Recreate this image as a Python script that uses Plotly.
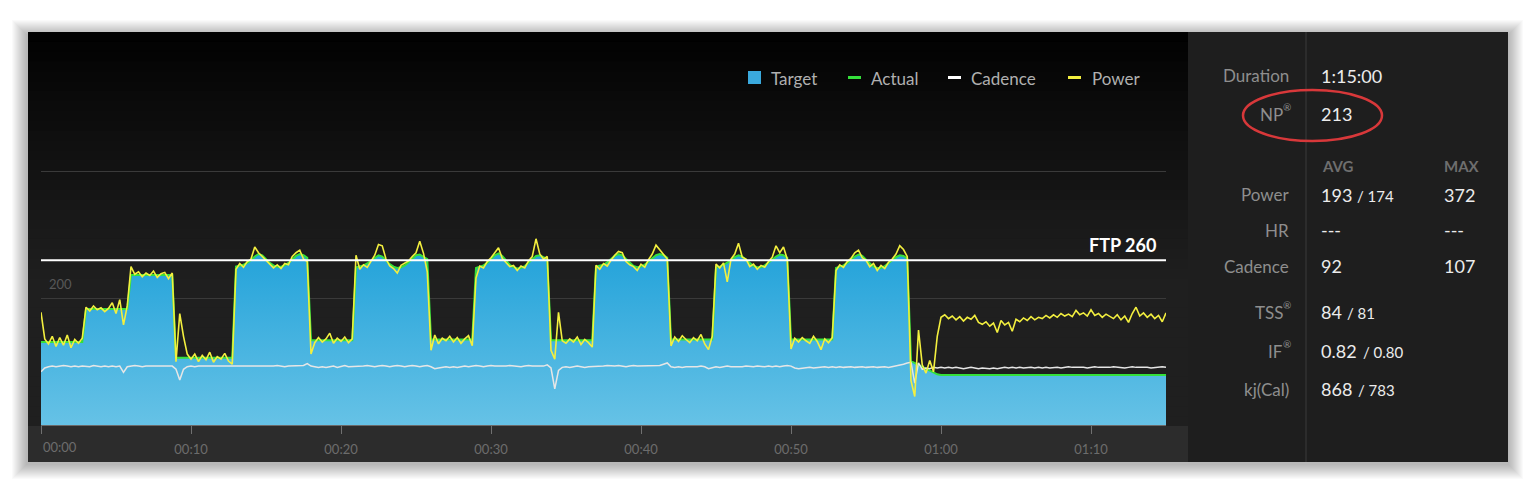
import numpy as np
import plotly.graph_objects as go

# ---------------- data ----------------
STEP_MIN = 0.25  # sampling step of every series, minutes

target_w = [
    131, 131, 131, 131, 131, 131, 131, 131, 131, 131, 131, 131,
    183, 183, 183, 183, 183, 183, 183, 183, 183, 183, 183, 183,
    237, 237, 237, 237, 237, 237, 237, 237, 237, 237, 237, 237,
    106, 106, 106, 106, 106, 106, 106, 106, 106, 106, 106, 106, 106, 106, 106, 106,
    250, 251, 253, 256, 260, 266, 270, 268, 262, 256, 252, 250, 250, 252, 256, 262, 267, 270, 268, 264,
    134, 134, 134, 134, 134, 134, 134, 134, 134, 134, 134, 134,
    249, 250, 252, 255, 259, 264, 268, 266, 260, 254, 250, 248, 249, 252, 257, 263, 268, 269, 266, 262,
    135, 135, 135, 135, 135, 135, 135, 135, 135, 135, 135, 135,
    248, 250, 252, 256, 262, 268, 271, 267, 260, 253, 249, 247, 248, 251, 256, 262, 267, 268, 265, 262,
    134, 134, 134, 134, 134, 134, 134, 134, 134, 134, 134, 134,
    250, 251, 253, 257, 262, 267, 270, 268, 262, 256, 251, 249, 250, 253, 258, 264, 268, 270, 268, 264,
    135, 135, 135, 135, 135, 135, 135, 135, 135, 135, 135, 135,
    249, 250, 253, 256, 260, 265, 268, 266, 261, 255, 251, 249, 249, 252, 256, 261, 266, 269, 268, 264,
    135, 135, 135, 135, 135, 135, 135, 135, 135, 135, 135, 135,
    248, 250, 252, 256, 261, 266, 269, 267, 261, 255, 250, 248, 248, 251, 255, 260, 265, 268, 267, 263,
    101, 98, 95, 92, 89, 86, 83, 80,
    79, 79, 79, 79, 79, 79, 79, 79, 79, 79, 79, 79, 79, 79, 79, 79, 79, 79, 79, 79,
    79, 79, 79, 79, 79, 79, 79, 79, 79, 79, 79, 79, 79, 79, 79, 79, 79, 79, 79, 79,
    79, 79, 79, 79, 79, 79, 79, 79, 79, 79, 79, 79, 79, 79, 79, 79, 79, 79, 79, 79, 79,
]

actual_w = target_w  # the green "Actual" outline follows the target profile

power_w = [
    178, 136, 128, 140, 124, 138, 126, 142, 122, 135, 129, 137,
    186, 180, 188, 182, 185, 179, 184, 193, 176, 198, 158, 188,
    250, 238, 242, 234, 240, 236, 243, 233, 239, 241, 231, 240,
    100, 176, 140, 112, 104, 112, 100, 110, 103, 115, 99, 108, 104, 113, 101, 96,
    246, 255, 249, 258, 262, 281, 272, 266, 259, 254, 248, 253, 247, 255, 253, 266, 272, 276, 262, 258,
    112, 130, 138, 131, 136, 145, 129, 137, 132, 139, 130, 136,
    268, 246, 253, 249, 258, 268, 285, 283, 262, 251, 247, 240, 252, 256, 259, 266, 272, 290, 271, 242,
    118, 142, 128, 137, 133, 140, 131, 138, 129, 136, 141, 125,
    232, 251, 248, 258, 264, 272, 280, 263, 257, 250, 252, 244, 251, 248, 259, 266, 294, 270, 262, 266,
    118, 104, 178, 133, 129, 136, 131, 139, 127, 135, 130, 123,
    252, 246, 255, 251, 260, 268, 274, 272, 258, 253, 250, 244, 254, 249, 261, 270, 284, 277, 270, 262,
    125, 139, 132, 141, 135, 130, 138, 133, 143, 128, 119, 140,
    254, 248, 256, 226, 262, 270, 287, 265, 262, 250, 254, 246, 252, 249, 258, 265, 283, 272, 281, 262,
    120, 137, 131, 138, 133, 129, 140, 132, 119, 136, 130, 138,
    244, 253, 249, 258, 263, 272, 276, 264, 260, 250, 255, 244, 252, 247, 257, 262, 270, 283, 277, 266,
    70, 45, 150, 95, 82, 102, 84, 140, 170,
    174, 168, 172, 166, 171, 164, 170, 167, 173, 162,
    159, 163, 156, 161, 146, 165, 158, 162, 148, 167,
    163, 169, 165, 171, 166, 170, 168, 173, 169, 174,
    170, 176, 172, 175, 171, 181, 174, 177, 172, 182,
    173, 176, 170, 175, 171, 168, 174, 166, 172, 162,
    176, 186, 172, 177, 170, 175, 168, 173, 163, 177,
]

cadence_rpm = [
    84, 90, 92, 93, 92, 93, 94, 93, 92, 93, 92, 93,
    93, 92, 94, 93, 92, 93, 92, 93, 92, 93, 83, 92,
    93, 94, 93, 92, 93, 93, 92, 93, 92, 93, 92, 93,
    88, 71, 88, 92, 93, 92, 93, 93, 92, 93, 92, 93, 93, 92, 93, 93,
    93, 92, 93, 92, 93, 92, 92, 93, 92, 93, 93, 94, 93, 92, 93, 93, 94, 93, 94, 97,
    93, 92, 91, 92, 91, 92, 93, 91, 92, 94, 92, 92,
    93, 92, 93, 94, 93, 92, 93, 94, 93, 92, 93, 94, 93, 92, 93, 94, 93, 92, 93, 94,
    92, 89, 90, 91, 92, 91, 92, 91, 92, 93, 92, 93,
    94, 93, 92, 93, 94, 93, 93, 92, 93, 94, 93, 93, 92, 93, 94, 93, 93, 92, 93, 95,
    90, 57, 86, 91, 92, 91, 92, 93, 92, 91, 92, 92,
    93, 92, 93, 94, 93, 93, 94, 93, 92, 93, 94, 93, 93, 94, 93, 94, 93, 94, 96, 98,
    92, 91, 92, 91, 92, 92, 91, 92, 93, 92, 89, 91,
    92, 91, 92, 93, 92, 92, 91, 92, 93, 92, 92, 93, 92, 92, 93, 92, 93, 92, 93, 94,
    93, 90, 89, 90, 91, 91, 90, 91, 91, 92, 91, 92,
    91, 92, 91, 92, 92, 91, 92, 92, 91, 92, 92, 91, 92, 92, 91, 92, 93, 94, 96, 98,
    99, 66, 98, 88, 90, 89, 91, 90, 91,
    90, 91, 90, 91, 90, 89, 90, 91, 90, 89,
    90, 89, 89, 90, 89, 90, 91, 90, 91, 90,
    91, 90, 91, 91, 90, 91, 90, 91, 90, 91,
    91, 90, 91, 92, 91, 91, 92, 91, 90, 91,
    92, 91, 91, 90, 91, 92, 91, 91, 90, 91,
    92, 91, 91, 92, 91, 90, 91, 91, 92, 91,
]

tick_minutes = [0, 10, 20, 30, 40, 50, 60, 70]
tick_labels = ["00:00", "00:10", "00:20", "00:30", "00:40", "00:50", "01:00", "01:10"]
grid_watts = [200, 400]
ftp_watts = 260
total_minutes = 75

legend_names = ["Target", "Actual", "Cadence", "Power"]

stat_labels = ["Duration", "NP", "Power", "HR", "Cadence", "TSS", "IF", "kj(Cal)"]
stat_registered = [False, True, False, False, False, True, True, False]
stat_avg_main = ["1:15:00", "213", "193", "---", "92", "84", "0.82", "868"]
stat_avg_sub = ["", "", "/ 174", "", "", "/ 81", "/ 0.80", "/ 783"]
stat_max = ["", "", "372", "---", "107", "", "", ""]
stat_headers = ["AVG", "MAX"]

# ---------------- helpers (pixel placement of decoration) ----------------
W, H = 1536, 491
OFF = 8  # page body margin
FONT = "Lato"


def px(x):
    return (x - OFF) / W


def py(y):
    return 1 - (y - OFF) / H


minutes = np.arange(len(power_w)) * STEP_MIN

fig = go.Figure()

fig.add_trace(go.Scatter(
    x=minutes, y=target_w, mode="none", fill="tozeroy", name=legend_names[0],
    fillgradient=dict(type="vertical", colorscale=[[0, "#66c2e6"], [1, "#24a3da"]], start=0, stop=270),
    hoverinfo="skip",
))
fig.add_trace(go.Scatter(x=minutes, y=actual_w, mode="lines", name=legend_names[1],
                         line=dict(color="#34e03b", width=2)))
fig.add_trace(go.Scatter(x=minutes, y=cadence_rpm, mode="lines", name=legend_names[2],
                         line=dict(color="#e6e6e6", width=1.5)))
fig.add_trace(go.Scatter(x=minutes, y=power_w, mode="lines", name=legend_names[3],
                         line=dict(color="#f3ef3f", width=1.6)))

shapes = []
# panel shadow
for k in range(1, 16):
    shapes.append(dict(type="rect", xref="paper", yref="paper", layer="below",
                       x0=px(28 - k - 1), x1=px(1508 + k), y0=py(32 - k + 3), y1=py(462 + k + 2),
                       fillcolor="rgba(0,0,0,0.02)", line=dict(width=0)))
# chart section gradient background (overlapping bands to avoid seams)
top, bot = 32, 426
n = 40
for i in range(n):
    y0 = top + (bot - top) * i / n
    y1 = min(bot, top + (bot - top) * (i + 1) / n + 3)
    v = min(1.0, ((y0 + top + (bot - top) * (i + 1) / n) / 2 - top) / 250.0)
    g = int(round(31 * v ** 0.85))
    shapes.append(dict(type="rect", xref="paper", yref="paper", layer="below",
                       x0=px(28), x1=px(1188), y0=py(y0), y1=py(y1),
                       fillcolor=f"rgb({g},{g},{g})", line=dict(width=0)))
# axis band
shapes.append(dict(type="rect", xref="paper", yref="paper", layer="below",
                   x0=px(28), x1=px(1188), y0=py(426), y1=py(462),
                   fillcolor="#2c2c2c", line=dict(width=0)))
# stats panel
shapes.append(dict(type="rect", xref="paper", yref="paper", layer="below",
                   x0=px(1188), x1=px(1508), y0=py(32), y1=py(462),
                   fillcolor="#1e1e1e", line=dict(width=0)))
shapes.append(dict(type="line", xref="paper", yref="paper", layer="below",
                   x0=px(1306), x1=px(1306), y0=py(32), y1=py(462),
                   line=dict(color="#3b3b3b", width=1)))
# FTP line
shapes.append(dict(type="line", xref="x", yref="y", layer="above",
                   x0=0, x1=total_minutes, y0=ftp_watts, y1=ftp_watts,
                   line=dict(color="#ffffff", width=2)))
# legend markers
shapes.append(dict(type="rect", xref="paper", yref="paper", x0=px(748), x1=px(761), y0=py(71), y1=py(84),
                   fillcolor="#3aa9dd", line=dict(width=0)))
for x0, col in [(848, "#34e03b"), (948, "#ffffff"), (1068, "#f3ef3f")]:
    shapes.append(dict(type="line", xref="paper", yref="paper", x0=px(x0), x1=px(x0 + 13), y0=py(77.5), y1=py(77.5),
                       line=dict(color=col, width=3)))
# red ellipse
shapes.append(dict(type="circle", xref="paper", yref="paper", x0=px(1243), x1=px(1382), y0=py(90), y1=py(141),
                   line=dict(color="#d8383a", width=2.5)))

ann = []


def add_text(x, y, text, size, color, anchor="left", bold=False):
    ann.append(dict(x=px(x), y=py(y), xref="paper", yref="paper", text=text, showarrow=False,
                    xanchor=anchor, yanchor="middle",
                    font=dict(family=FONT, size=size, color=color, weight="bold" if bold else "normal")))


# legend texts
for x, name in zip([769, 869, 969, 1090], legend_names):
    add_text(x, 78, name, 17, "#b0b0b0")
# FTP label
ann.append(dict(x=total_minutes, y=ftp_watts, xref="x", yref="y", text=f"FTP {ftp_watts}", showarrow=False,
                xanchor="right", yanchor="bottom", xshift=-8, yshift=2,
                font=dict(family=FONT, size=18, color="#ffffff", weight="bold")))
# 200 label
ann.append(dict(x=0, y=grid_watts[0], xref="x", yref="y", text=str(grid_watts[0]), showarrow=False,
                xanchor="left", yanchor="bottom", xshift=6, yshift=4,
                font=dict(family=FONT, size=13, color="#585858")))
# first x tick label (left-justified like the reference)
ann.append(dict(x=tick_minutes[0], y=py(447), xref="x", yref="paper", text=tick_labels[0], showarrow=False,
                xanchor="left", yanchor="middle", font=dict(family=FONT, size=13, color="#6c6c6c")))

# stats panel texts
row_y = [76, 114, 195, 230, 266, 312, 351, 389]
sub_x = [0, 0, 1355, 0, 0, 1345, 1361, 1356]
for lab, reg, main, sub, mx, y, sx in zip(stat_labels, stat_registered, stat_avg_main, stat_avg_sub,
                                          stat_max, row_y, sub_x):
    if reg:
        add_text(1285, y, lab, 17, "#8e8e8e", anchor="right")
        add_text(1281, y - 7, "®", 10, "#8e8e8e")
    else:
        add_text(1291, y, lab, 17, "#8e8e8e", anchor="right")
    add_text(1319, y, main, 18, "#ececec")
    if sub:
        add_text(sx, y + 1, sub, 15, "#ececec")
    if mx:
        add_text(1442, y, mx, 18, "#ececec")
for x, h in zip([1320, 1442], stat_headers):
    add_text(x, 166, h, 15, "#6e6e6e", bold=True)

fig.update_layout(
    width=W, height=H, margin=dict(l=0, r=0, t=0, b=0),
    paper_bgcolor="#ffffff", plot_bgcolor="rgba(0,0,0,0)",
    showlegend=False, shapes=shapes, annotations=ann,
    font=dict(family=FONT),
)
fig.update_xaxes(
    domain=[px(41), px(1166)], range=[0, total_minutes],
    tickvals=tick_minutes[1:], ticktext=tick_labels[1:],
    ticks="outside", ticklen=8, tickcolor="#707070", tickwidth=1,
    minor=dict(tickvals=tick_minutes[:1], ticks="outside", ticklen=8, tickcolor="#707070", tickwidth=1, showgrid=False),
    tickfont=dict(family=FONT, size=13, color="#6c6c6c"), ticklabelstandoff=4,
    showgrid=False, zeroline=False, showline=True, linecolor="#6a6a6a", linewidth=1,
)
fig.update_yaxes(
    domain=[py(425), py(150)], range=[0, 434.2],
    tickvals=grid_watts, showticklabels=False,
    showgrid=True, gridcolor="#3a3a3a", gridwidth=1, zeroline=False, showline=False,
)

fig.write_html("out.html")
